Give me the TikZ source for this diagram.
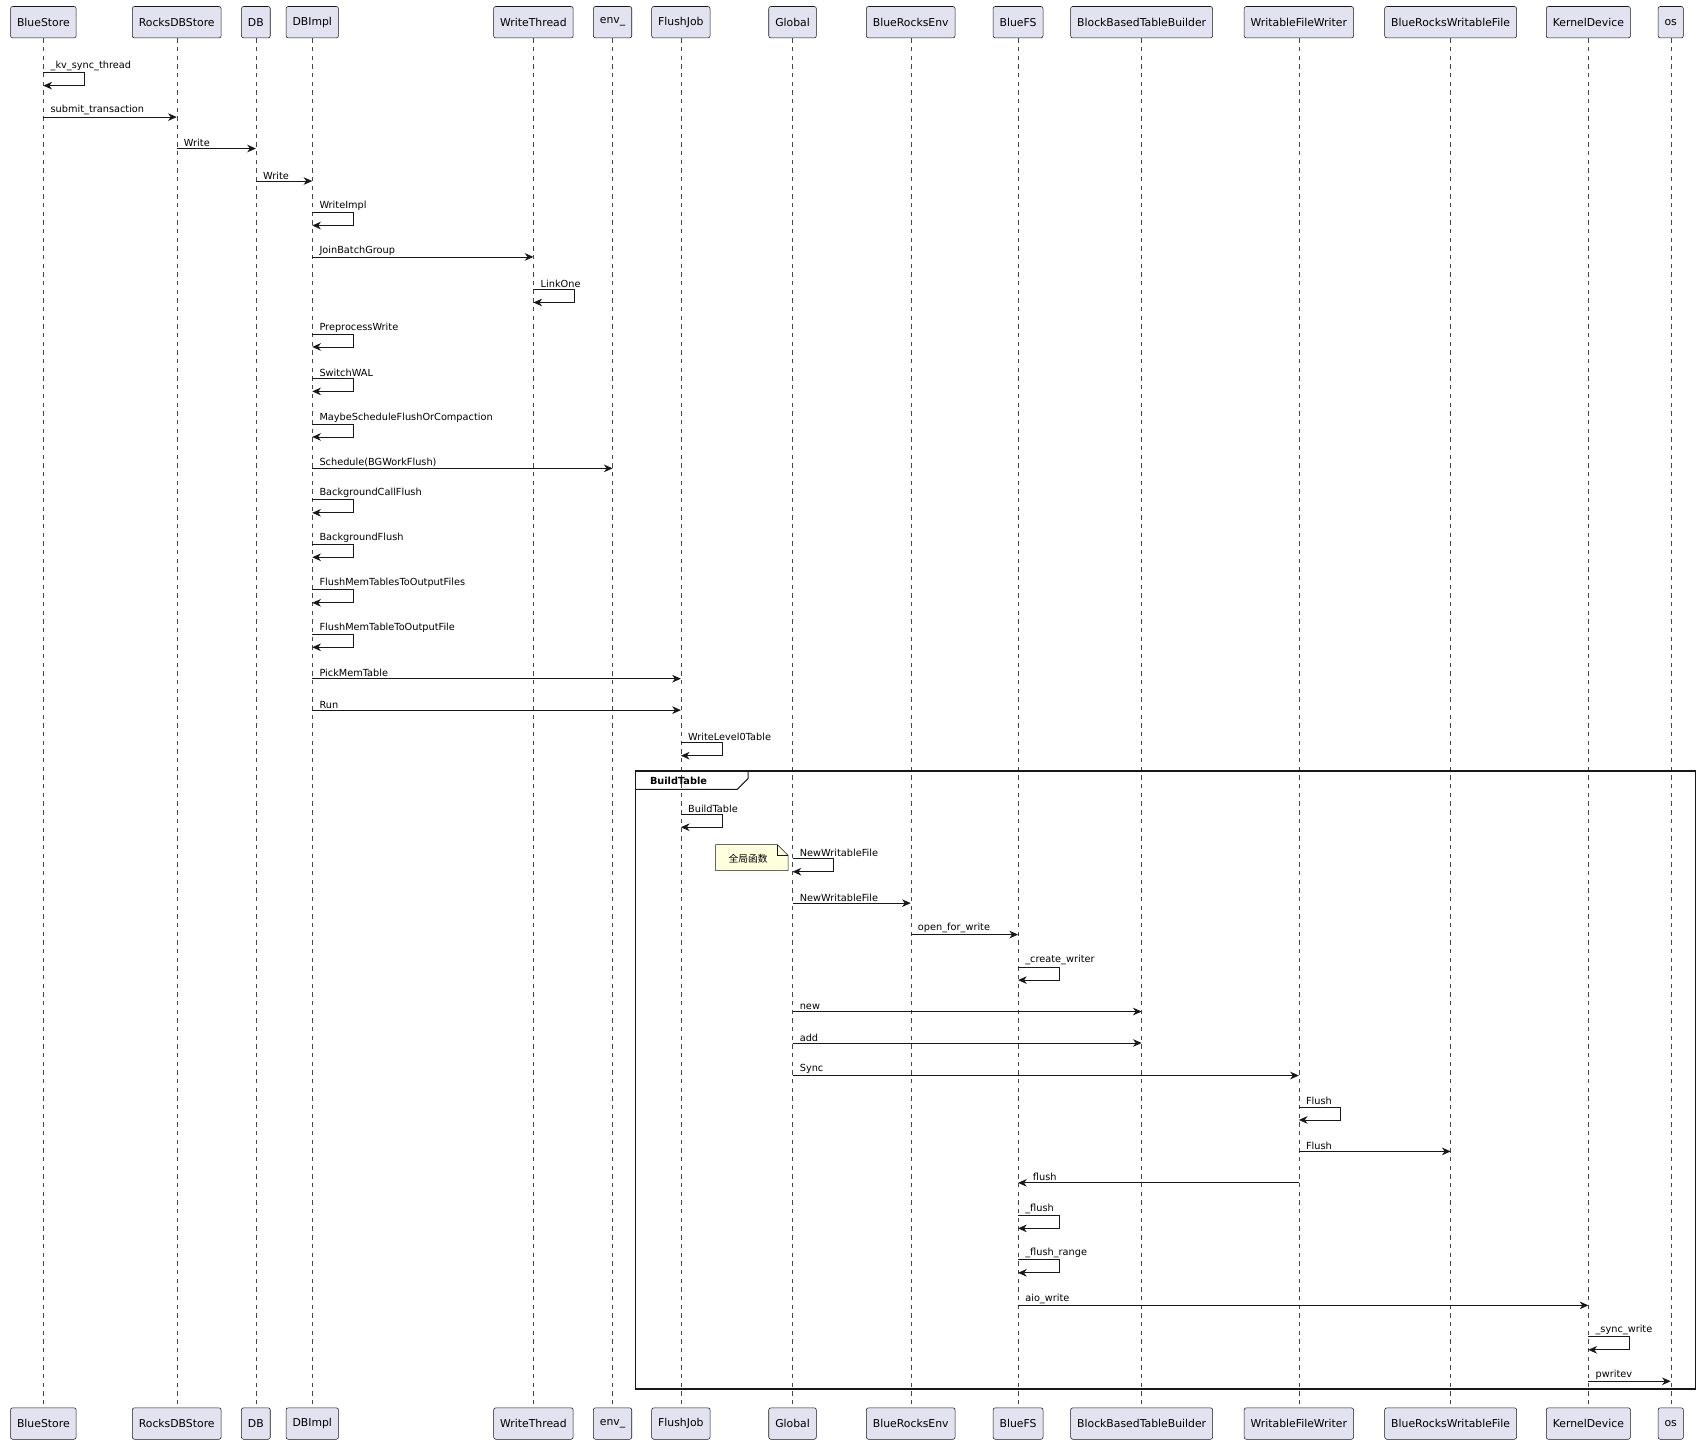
\documentclass[tikz,border=0pt]{standalone}
\usepackage{fontspec}
\setmainfont{DejaVu Sans}
\newfontfamily\cjk{Noto Sans CJK SC}
\usetikzlibrary{arrows.meta}
\definecolor{pfill}{HTML}{E2E2F0}
\definecolor{pline}{HTML}{181818}
\definecolor{nfill}{HTML}{FEFFDD}
\tikzset{
  part/.style={draw=pline,fill=pfill,rounded corners=2pt,minimum height=29pt,inner xsep=6pt,font=\fontsize{10}{11}\selectfont,line width=0.5pt},
  life/.style={draw=pline!80,dash pattern=on 4pt off 4pt,line width=0.4pt},
  msgl/.style={draw=pline,line width=0.7pt,-{Stealth[length=8pt,width=7pt,inset=2.5pt]}},
  lbl/.style={font=\fontsize{9}{10}\selectfont,anchor=south west,inner sep=1.5pt},
}
\newcommand{\mymsg}[4]{%
  \draw[msgl] (#1 |- 0,#3) -- (#2 |- 0,#3);
  \node[lbl] at ([xshift=5pt]#1 |- 0,#3) {#4};}
\newcommand{\mymsgl}[4]{%
  \draw[msgl] (#1 |- 0,#3) -- (#2 |- 0,#3);
  \node[lbl] at ([xshift=12pt]#2 |- 0,#3) {#4};}
\newcommand{\myself}[3]{%
  \draw[msgl] (#1 |- 0,#2) -- ++(38,0) -- ++(0,12) -- ++(-38,0);
  \node[lbl] at ([xshift=5pt]#1 |- 0,#2) {#3};}
\begin{document}
\begin{tikzpicture}[x=1pt,y=-1pt]
\useasboundingbox (0,0) rectangle (1568,1330);
\foreach \n/\x/\t in {bs/40/BlueStore,rs/163/RocksDBStore,db/236/DB,di/288/DBImpl,wt/492/WriteThread,env/565/env\_,fj/628/FlushJob,gl/731/Global,bre/840/BlueRocksEnv,bfs/939/BlueFS,bbt/1053/BlockBasedTableBuilder,wfw/1198/WritableFileWriter,brw/1338/BlueRocksWritableFile,kd/1465/KernelDevice,os/1541/os}{
  \coordinate (\n) at (\x,0);
  \node[part] (\n T) at (\x,20.5) {\t};
  \node[part] (\n B) at (\x,1313) {\t};
  \draw[life] (\n T.south) -- (\n B.north);
}
% group
\draw[line width=1.2pt,pline] (586,711) rectangle (1564,1281);
\draw[line width=1pt,pline] (586,728) -- (680,728) -- (690,718) -- (690,711);
\node[font=\bfseries\fontsize{9}{10}\selectfont,anchor=west] (grp) at (596,720.5) {BuildTable};
% messages
\myself{bs}{67}{\_kv\_sync\_thread}
\mymsg{bs}{rs}{108}{submit\_transaction}
\mymsg{rs}{db}{137}{Write}
\mymsg{db}{di}{167}{Write}
\myself{di}{196}{WriteImpl}
\mymsg{di}{wt}{237}{JoinBatchGroup}
\myself{wt}{267}{LinkOne}
\myself{di}{308}{PreprocessWrite}
\myself{di}{349}{SwitchWAL}
\myself{di}{391}{MaybeScheduleFlushOrCompaction}
\mymsg{di}{env}{432}{Schedule(BGWorkFlush)}
\myself{di}{461}{BackgroundCallFlush}
\myself{di}{502}{BackgroundFlush}
\myself{di}{544}{FlushMemTablesToOutputFiles}
\myself{di}{585}{FlushMemTableToOutputFile}
\mymsg{di}{fj}{626}{PickMemTable}
\mymsg{di}{fj}{655}{Run}
\myself{fj}{685}{WriteLevel0Table}
\myself{fj}{751}{BuildTable}
\myself{gl}{792}{NewWritableFile}
\draw[pline,fill=nfill,line width=0.5pt] (660,779) -- (717,779) -- (727,789) -- (727,803) -- (660,803) -- cycle;
\draw[pline,line width=0.5pt] (717,779) -- (717,789) -- (727,789);
\node[font=\cjk\fontsize{9}{10}\selectfont] (note) at (690,792) {全局函数};
\mymsg{gl}{bre}{833}{NewWritableFile}
\mymsg{bre}{bfs}{862}{open\_for\_write}
\myself{bfs}{892}{\_create\_writer}
\mymsg{gl}{bbt}{933}{new}
\mymsg{gl}{bbt}{962}{add}
\mymsg{gl}{wfw}{992}{Sync}
\myself{wfw}{1021}{Flush}
\mymsg{wfw}{brw}{1062}{Flush}
\mymsgl{wfw}{bfs}{1091}{flush}
\myself{bfs}{1121}{\_flush}
\myself{bfs}{1162}{\_flush\_range}
\mymsg{bfs}{kd}{1204}{aio\_write}
\myself{kd}{1233}{\_sync\_write}
\mymsg{kd}{os}{1274}{pwritev}
\end{tikzpicture}
\end{document}
